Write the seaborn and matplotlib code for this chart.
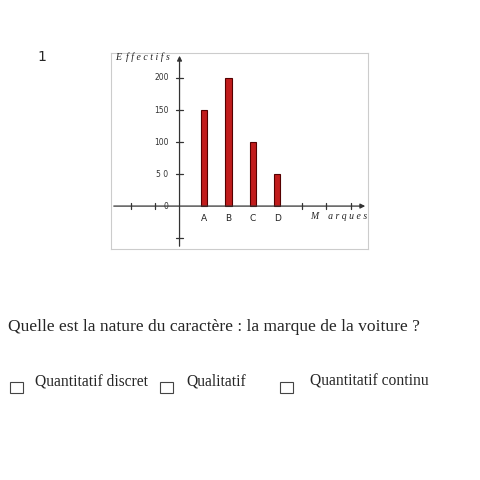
import matplotlib
matplotlib.use("Agg")
import matplotlib.pyplot as plt
import seaborn as sns
import pandas as pd

categories = ["A", "B", "C", "D"]
values = [150, 200, 100, 50]
positions = [1, 2, 3, 4]
yticks = [0, 50, 100, 150, 200]
ytick_labels = ["0", "5 0", "100", "150", "200"]

sns.set_style("white")
fig = plt.figure(figsize=(4.8, 4.8), dpi=100)
ax = fig.add_axes([111/480, 231/480, 257/480, 196/480])
df = pd.DataFrame({"pos": positions, "val": values})
sns.barplot(data=df, x="pos", y="val", native_scale=True, width=0.25,
            color="#dd0000", edgecolor="#550000", linewidth=0.8, ax=ax)
ax.set_xlim(-2.8, 7.7)
ax.set_ylim(-67, 239)
ax.set_xticks([]); ax.set_yticks([])
ax.set_xlabel(""); ax.set_ylabel("")
for s in ax.spines.values():
    s.set_color("#cccccc"); s.set_linewidth(0.8)
ax.annotate("", xy=(7.7, 0), xytext=(-2.8, 0),
            arrowprops=dict(arrowstyle="-|>", color="#333", lw=0.9, mutation_scale=7))
ax.annotate("", xy=(0, 239), xytext=(0, -67),
            arrowprops=dict(arrowstyle="-|>", color="#333", lw=0.9, mutation_scale=7))
for t in [-2, -1, 5, 6, 7]:
    ax.plot([t, t], [-5, 5], color="#333", lw=0.9)
for t in [50, 100, 150, 200, -50]:
    ax.plot([-0.15, 0.15], [t, t], color="#333", lw=0.9)
for t, lab in zip(yticks, ytick_labels):
    ax.text(-0.45, t, lab, ha="right", va="center", fontsize=5.5, color="#333")
for p, c in zip(positions, categories):
    ax.text(p, -12, c, ha="center", va="top", fontsize=6.5, color="#222")
ax.text(5.35, -16, "M    a r q u e s", ha="left", va="center", fontsize=7,
        family="Liberation Serif", style="italic", color="#222")
ax.text(-2.65, 232, "E  f f e c t i f s", ha="left", va="center", fontsize=7,
        family="Liberation Serif", style="italic", color="#222")

fig.text(37/480, 1-57/480, "1", fontsize=10, va="center")
fig.text(8/480, 1-327/480, "Quelle est la nature du caractère : la marque de la voiture ?",
         fontsize=12.6, family="Liberation Serif", va="center")
opts = [(10, "Quantitatif discret", 35), (160, "Qualitatif", 186), (280, "Quantitatif continu", 310)]
for bx, lab, tx in opts:
    fig.patches.append(plt.Rectangle((bx/480, 1-393/480), 13/480, 11/480,
                                     transform=fig.transFigure, fill=False,
                                     edgecolor="#444", lw=0.8))
    fig.text(tx/480, 1-382/480, lab, fontsize=11.2, family="Liberation Serif", va="center")
fig.savefig("out.png", dpi=100)
